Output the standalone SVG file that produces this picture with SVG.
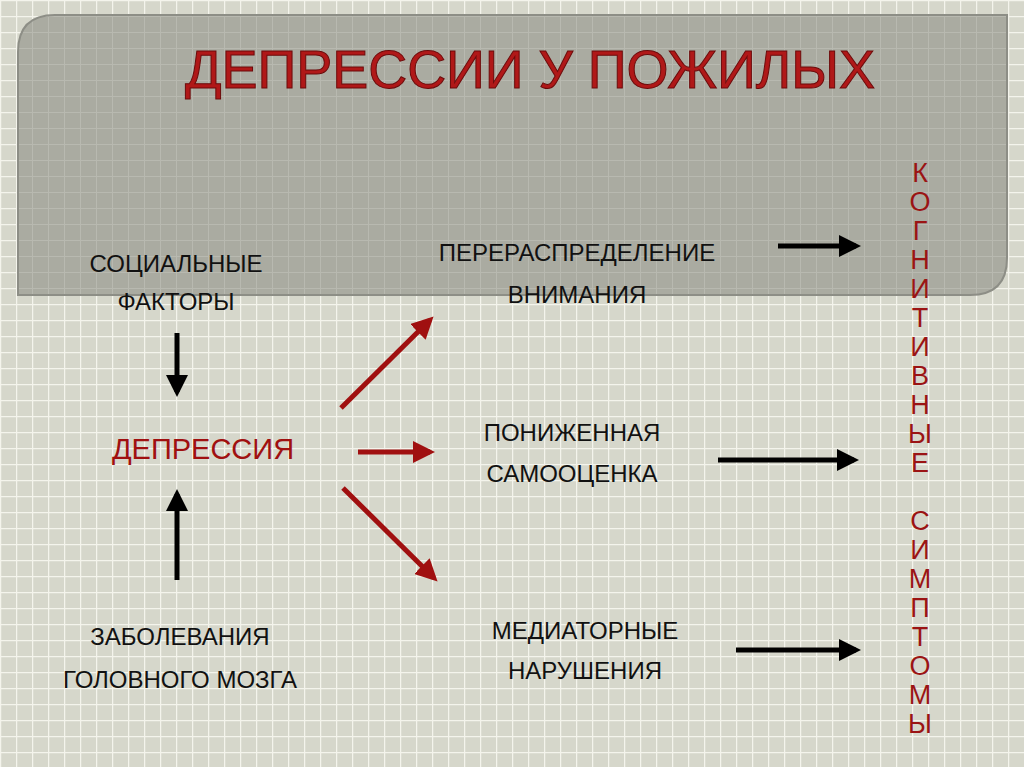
<svg xmlns="http://www.w3.org/2000/svg" width="1024" height="767" viewBox="0 0 1024 767">
<defs>
<pattern id="grid" width="16" height="16" patternUnits="userSpaceOnUse">
<rect width="16" height="16" fill="#d6d7cb"/>
<path d="M0 0.5H16M0.5 0V16" stroke="#f4f4ec" stroke-width="1.5"/>
</pattern>
<pattern id="grid2" width="16" height="16" patternUnits="userSpaceOnUse">
<rect width="16" height="16" fill="#aaaba1"/>
<path d="M0 0.5H16M0.5 0V16" stroke="#b8b9b0" stroke-width="1"/>
</pattern>
<marker id="ab" markerWidth="4.4" markerHeight="4.4" refX="3.4" refY="2.2" orient="auto"><path d="M0 0L4.4 2.2L0 4.4Z" fill="#000"/></marker>
<marker id="ar" markerWidth="4.4" markerHeight="4.4" refX="3.4" refY="2.2" orient="auto"><path d="M0 0L4.4 2.2L0 4.4Z" fill="#a01010"/></marker>
</defs>
<style>
text{font-family:"Liberation Sans",Arial,sans-serif;text-anchor:middle}
.t{font-size:24px;fill:#111}
.v{font-size:27px;fill:#9b1414}
.b{stroke:#000;stroke-width:5;marker-end:url(#ab)}
.r{stroke:#a01010;stroke-width:5;marker-end:url(#ar)}
</style>
<rect width="1024" height="767" fill="url(#grid)"/>
<g id="panel">
<path d="M55 15H1007V258Q1007 295 970 295H18V52Q18 15 55 15Z" fill="url(#grid2)" stroke="#8d8e86" stroke-width="2"/>
<text x="530" y="88" textLength="690" style="font-size:54px;fill:#b01818;stroke:#6a0a0a;stroke-width:1">ДЕПРЕССИИ У ПОЖИЛЫХ</text>
</g>
<g id="social"><text class="t" x="176" y="272">СОЦИАЛЬНЫЕ</text><text class="t" x="176" y="310">ФАКТОРЫ</text></g>
<g id="depression"><text x="203" y="459" style="font-size:29px;fill:#a01010">ДЕПРЕССИЯ</text></g>
<g id="brain"><text class="t" x="180" y="645">ЗАБОЛЕВАНИЯ</text><text class="t" x="180" y="688">ГОЛОВНОГО МОЗГА</text></g>
<g id="attention"><text class="t" x="577" y="261">ПЕРЕРАСПРЕДЕЛЕНИЕ</text><text class="t" x="577" y="303">ВНИМАНИЯ</text></g>
<g id="selfesteem"><text class="t" x="572" y="441">ПОНИЖЕННАЯ</text><text class="t" x="572" y="482">САМООЦЕНКА</text></g>
<g id="mediator"><text class="t" x="585" y="639">МЕДИАТОРНЫЕ</text><text class="t" x="585" y="679">НАРУШЕНИЯ</text></g>
<g id="cognitive">
<text class="v" x="920" y="182">К</text><text class="v" x="920" y="211">О</text><text class="v" x="920" y="240">Г</text><text class="v" x="920" y="269">Н</text><text class="v" x="920" y="298">И</text><text class="v" x="920" y="327">Т</text><text class="v" x="920" y="356">И</text><text class="v" x="920" y="385">В</text><text class="v" x="920" y="414">Н</text><text class="v" x="920" y="443">Ы</text><text class="v" x="920" y="472">Е</text>
<text class="v" x="920" y="530">С</text><text class="v" x="920" y="559">И</text><text class="v" x="920" y="588">М</text><text class="v" x="920" y="617">П</text><text class="v" x="920" y="646">Т</text><text class="v" x="920" y="675">О</text><text class="v" x="920" y="704">М</text><text class="v" x="920" y="733">Ы</text>
</g>
<g id="connectors">
<line class="b" x1="177" y1="333" x2="177" y2="392"/>
<line class="b" x1="177" y1="580" x2="177" y2="494"/>
<line class="r" x1="341" y1="408" x2="430" y2="320"/>
<line class="r" x1="358" y1="452" x2="430" y2="452"/>
<line class="r" x1="343" y1="488" x2="434" y2="578"/>
<line class="b" x1="778" y1="246" x2="856" y2="246"/>
<line class="b" x1="718" y1="460" x2="854" y2="460"/>
<line class="b" x1="736" y1="650" x2="856" y2="650"/>
</g>
</svg>
